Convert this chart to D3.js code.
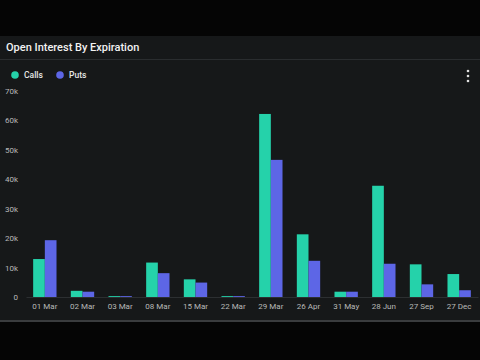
<!DOCTYPE html>
<html>
<head>
<meta charset="utf-8">
<script src="https://cdn.jsdelivr.net/npm/d3@7"></script>
<style>
  body { margin: 0; background: #050505; }
  svg { display: block; font-family: Roboto, "Noto Sans", sans-serif; }
</style>
</head>
<body>
<svg id="chart" width="480" height="360"></svg>
<script>
// expirations and open interest (contracts)
const expirations = ["01 Mar", "02 Mar", "03 Mar", "08 Mar", "15 Mar", "22 Mar",
                     "29 Mar", "26 Apr", "31 May", "28 Jun", "27 Sep", "27 Dec"];
const calls = [12900, 2100, 300, 11700, 6000, 300, 62200, 21300, 1800, 37800, 11100, 7800];
const puts  = [19300, 1800, 300, 8100, 4900, 300, 46600, 12300, 1800, 11300, 4300, 2300];
const yTicks = [0, 10000, 20000, 30000, 40000, 50000, 60000, 70000];
const seriesNames = ["Calls", "Puts"];
const seriesColors = ["#25d2aa", "#5d66e6"];

const svg = d3.select("#chart");

// panel
svg.append("rect").attr("x", 0).attr("y", 36).attr("width", 480).attr("height", 285)
  .attr("fill", "#161819");
svg.append("rect").attr("x", 0).attr("y", 320).attr("width", 480).attr("height", 2)
  .attr("fill", "#3a3c3e");
svg.append("rect").attr("x", 0).attr("y", 59).attr("width", 480).attr("height", 1)
  .attr("fill", "#2a2d2f");

svg.append("text").attr("x", 6).attr("y", 51)
  .attr("fill", "#f2f2f2").attr("font-size", 11).attr("font-weight", 500)
  .text("Open Interest By Expiration");

// legend
const leg = svg.append("g").selectAll("g").data(seriesNames).enter().append("g")
  .attr("transform", (d, i) => `translate(${15 + i * 45},75)`);
leg.append("circle").attr("r", 3.8).attr("fill", (d, i) => seriesColors[i]);
leg.append("text").attr("x", 9).attr("dy", "0.35em")
  .attr("fill", "#e8e8e8").attr("font-size", 8.5).attr("font-weight", 500)
  .text(d => d);

// kebab menu
[-5, 0, 5].forEach(dy => {
  svg.append("circle").attr("cx", 468).attr("cy", 76 + dy).attr("r", 1.3).attr("fill", "#e0e0e0");
});

const x = d3.scaleBand().domain(expirations).range([26, 478]).paddingInner(0.38).paddingOuter(0.19);
const xSub = d3.scaleBand().domain(seriesNames).range([0, x.bandwidth()]);
const y = d3.scaleLinear().domain([0, 70000]).range([297, 91]);

const yAxis = svg.append("g").attr("transform", "translate(18,0)")
  .call(d3.axisLeft(y).tickValues(yTicks).tickSize(0).tickPadding(0)
    .tickFormat(d => d === 0 ? "0" : (d / 1000) + "k"));
yAxis.select(".domain").remove();
yAxis.selectAll("text").attr("fill", "#b8b8b8").attr("font-size", 8).attr("font-family", "Roboto, sans-serif");

const groups = svg.append("g").selectAll("g").data(expirations).enter().append("g")
  .attr("transform", d => `translate(${x(d)},0)`);
groups.selectAll("rect")
  .data((d, i) => [calls[i], puts[i]])
  .enter().append("rect")
  .attr("x", (d, j) => xSub(seriesNames[j]))
  .attr("width", xSub.bandwidth())
  .attr("y", d => y(d))
  .attr("height", d => y(0) - y(d))
  .attr("fill", (d, j) => seriesColors[j]);

const xAxis = svg.append("g").attr("transform", "translate(0,297)")
  .call(d3.axisBottom(x).tickSize(0).tickPadding(6));
xAxis.select(".domain").attr("stroke", "#2c2f31");
xAxis.selectAll("text").attr("fill", "#b8b8b8").attr("font-size", 8).attr("font-family", "Roboto, sans-serif");
</script>
</body>
</html>
